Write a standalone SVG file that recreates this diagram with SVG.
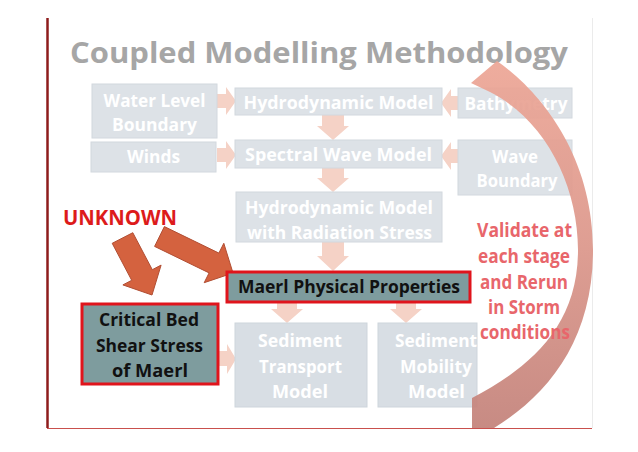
<svg xmlns="http://www.w3.org/2000/svg" width="638" height="452" viewBox="0 0 638 452">
<defs>
<linearGradient id="curveGrad" x1="0" y1="60" x2="0" y2="430" gradientUnits="userSpaceOnUse">
<stop offset="0" stop-color="#eda696"/>
<stop offset="0.5" stop-color="#dc978b"/>
<stop offset="1" stop-color="#c3827a"/>
</linearGradient>
</defs>
<style>
.bg{fill:#ffffff}
.box{fill:#dde2e7;stroke:#d2d8de;stroke-width:1}
.sed{fill:#d8dee4;stroke:#ced5dc;stroke-width:1}
.key{fill:#7e9c9e;stroke:#e0141c;stroke-width:3}
.flow{fill:#f5d2c6}
.unk{fill:#d4623f;stroke:#b14e33;stroke-width:1}
.t{font-family:"Open Sans","Liberation Sans",sans-serif;font-weight:700;text-anchor:middle}
.wt{fill:#ffffff;font-size:18px}
.bt{fill:#111111;font-size:17.5px}
.vt{fill:#e8666b;font-size:19px}
</style>
<rect class="bg" x="0" y="0" width="638" height="452"/>
<g id="frame">
<line x1="47.5" y1="18" x2="47.5" y2="428" stroke="#8e1c1c" stroke-width="2.5"/>
<line x1="47" y1="428.5" x2="592" y2="428.5" stroke="#c9504d" stroke-width="1.2"/>
<line x1="592.5" y1="18" x2="592.5" y2="428" stroke="#ebebeb" stroke-width="1"/>
</g>
<g id="title">
<text x="70" y="63" font-family="'Open Sans','Liberation Sans',sans-serif" font-weight="700" font-size="28" fill="#a6a6a6" textLength="498" lengthAdjust="spacingAndGlyphs">Coupled Modelling Methodology</text>
</g>
<g id="connectors">
<path class="flow" d="M217,94 H226 V87 L236,101 L226,115 V108 H217 Z"/>
<path class="flow" d="M217,148 H226 V141 L236,155 L226,169 V162 H217 Z"/>
<path class="flow" d="M458,96 H451 V89 L441,103 L451,117 V110 H458 Z"/>
<path class="flow" d="M458,149 H451 V142 L441,156 L451,170 V163 H458 Z"/>
<path class="flow" d="M322,115 V126 H317 L333,140 L349,126 H344 V115 Z"/>
<path class="flow" d="M322,168 V178 H317 L333,192 L349,178 H344 V168 Z"/>
<path class="flow" d="M322,242 V256 H317 L333,271 L349,256 H344 V242 Z"/>
<path class="flow" d="M277,303 V309 H271 L287,323 L303,309 H297 V303 Z"/>
<path class="flow" d="M396,303 V309 H390 L406,323 L422,309 H416 V303 Z"/>
<path class="flow" d="M219,351 H227 V344 L236,359 L227,374 V366 H219 Z"/>
<path class="unk" d="M112.2,243.3 L132.8,232.7 L152.3,269.7 L161.1,265.1 L152,295 L122.9,284.9 L131.7,280.3 Z"/>
<path class="unk" d="M154.6,246.4 L164.4,226.6 L218.9,253.1 L223.8,243.3 L233,273 L204.2,282.7 L209.1,272.9 Z"/>
</g>
<g id="water-level">
<rect class="box" x="92" y="84" width="125" height="54"/>
<text class="t wt" x="154.5" y="107" textLength="102" lengthAdjust="spacingAndGlyphs">Water Level</text>
<text class="t wt" x="154.5" y="131" textLength="85" lengthAdjust="spacingAndGlyphs">Boundary</text>
</g>
<g id="winds">
<rect class="box" x="91" y="142" width="125" height="30"/>
<text class="t wt" x="153.5" y="163" textLength="53" lengthAdjust="spacingAndGlyphs">Winds</text>
</g>
<g id="hydro">
<rect class="box" x="235" y="88" width="207" height="27"/>
<text class="t wt" x="338.5" y="109" textLength="190" lengthAdjust="spacingAndGlyphs">Hydrodynamic Model</text>
</g>
<g id="bathymetry">
<rect class="box" x="458" y="88" width="114" height="30"/>
<text class="t wt" x="516" y="110" textLength="103" lengthAdjust="spacingAndGlyphs">Bathymetry</text>
</g>
<g id="spectral">
<rect class="box" x="235" y="140" width="207" height="28"/>
<text class="t wt" x="338.5" y="161" textLength="187" lengthAdjust="spacingAndGlyphs">Spectral Wave Model</text>
</g>
<g id="wave-boundary">
<rect class="box" x="458" y="140" width="114" height="55"/>
<text class="t wt" x="515" y="163" textLength="46" lengthAdjust="spacingAndGlyphs">Wave</text>
<text class="t wt" x="517" y="187" textLength="81" lengthAdjust="spacingAndGlyphs">Boundary</text>
</g>
<g id="hydro-rad">
<rect class="box" x="236" y="192" width="206" height="50"/>
<text class="t wt" x="339" y="214" textLength="188" lengthAdjust="spacingAndGlyphs">Hydrodynamic Model</text>
<text class="t wt" x="339.5" y="239" textLength="185" lengthAdjust="spacingAndGlyphs">with Radiation Stress</text>
</g>
<g id="sed-transport">
<rect class="sed" x="235" y="323" width="132" height="84"/>
<text class="t wt" x="300" y="347" textLength="84" lengthAdjust="spacingAndGlyphs">Sediment</text>
<text class="t wt" x="300.5" y="373" textLength="83" lengthAdjust="spacingAndGlyphs">Transport</text>
<text class="t wt" x="300" y="398" textLength="56" lengthAdjust="spacingAndGlyphs">Model</text>
</g>
<g id="sed-mobility">
<rect class="sed" x="378" y="323" width="99" height="84"/>
<text class="t wt" x="436" y="347" textLength="82" lengthAdjust="spacingAndGlyphs">Sediment</text>
<text class="t wt" x="436" y="373" textLength="72" lengthAdjust="spacingAndGlyphs">Mobility</text>
<text class="t wt" x="436.5" y="398" textLength="57" lengthAdjust="spacingAndGlyphs">Model</text>
</g>
<g id="maerl">
<rect class="key" x="227" y="272" width="243" height="30"/>
<text class="t bt" x="349" y="293" textLength="222" lengthAdjust="spacingAndGlyphs">Maerl Physical Properties</text>
</g>
<g id="critical">
<rect class="key" x="82" y="304" width="136" height="80"/>
<text class="t bt" x="149" y="326" textLength="100" lengthAdjust="spacingAndGlyphs">Critical Bed</text>
<text class="t bt" x="149.5" y="352" textLength="107" lengthAdjust="spacingAndGlyphs">Shear Stress</text>
<text class="t bt" x="150" y="377" textLength="76" lengthAdjust="spacingAndGlyphs">of Maerl</text>
</g>
<g id="unknown">
<text x="63" y="225" font-family="'Open Sans','Liberation Sans',sans-serif" font-weight="700" font-size="21" fill="#dd1b1b" textLength="114" lengthAdjust="spacingAndGlyphs">UNKNOWN</text>
</g>
<g id="loop-arrow">
<path fill="url(#curveGrad)" fill-opacity="0.93" d="M472,428 L472,398 C525,370 578,330 578,250 C578,185 545,120 490,92 L471,83 L497,61 C545,95 593,160 593,250 C593,340 548,395 494,428 Z"/>
</g>
<g id="validate">
<text class="t vt" x="524.5" y="237" textLength="95" lengthAdjust="spacingAndGlyphs">Validate at</text>
<text class="t vt" x="524" y="263" textLength="92" lengthAdjust="spacingAndGlyphs">each stage</text>
<text class="t vt" x="524" y="289" textLength="88" lengthAdjust="spacingAndGlyphs">and Rerun</text>
<text class="t vt" x="524" y="314" textLength="72" lengthAdjust="spacingAndGlyphs">in Storm</text>
<text class="t vt" x="525" y="339" textLength="90" lengthAdjust="spacingAndGlyphs">conditions</text>
</g>
</svg>
